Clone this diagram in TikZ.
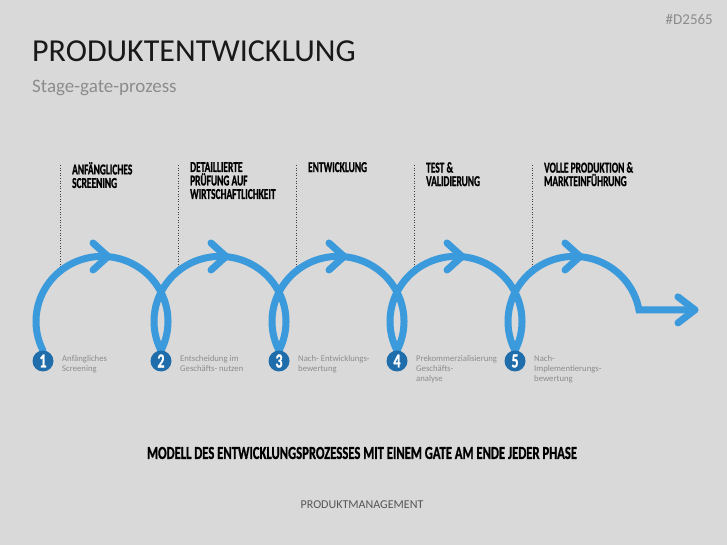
\documentclass[tikz,border=0pt]{standalone}
\usepackage{fontspec}
\usepackage{graphicx}
\setmainfont{Carlito}
\newfontfamily\heavyfont{Carlito}[BoldFeatures={FakeBold=1.2}]
\usetikzlibrary{positioning}

\definecolor{bgray}{HTML}{D9D9D9}
\definecolor{flowblue}{HTML}{3A9ADB}
\definecolor{gateblue}{HTML}{1F6DAA}
\definecolor{softgray}{HTML}{8C8C8C}
\definecolor{darkgray}{HTML}{555555}

\tikzset{
  flow/.style={draw=flowblue, line width=7pt, line cap=round},
  chevron/.style={flow, line join=round},
  gate/.style={circle, fill=gateblue, minimum size=21pt, inner sep=0pt, text=white,
    font=\heavyfont\bfseries\fontsize{20}{20}\selectfont},
  phase/.style={anchor=north west, align=left, inner sep=0pt, xscale=0.63,
    font=\heavyfont\bfseries\fontsize{15}{13.5}\selectfont},
  note/.style={anchor=north west, align=left, inner sep=0pt, text=softgray,
    font=\fontsize{8.7}{10}\selectfont},
  gateline/.style={draw=black!75, dotted, line width=0.6pt},
}

\begin{document}
\begin{tikzpicture}[x=1pt,y=1pt]
  \fill[bgray] (0,0) rectangle (727,545);
  \useasboundingbox (0,0) rectangle (727,545);

  % header
  \node[anchor=base east, inner sep=0pt, text=softgray, font=\fontsize{15}{15}\selectfont] (code) at (713,520) {\#D2565};
  \node[anchor=base west, inner sep=0pt, text=black!90, font=\fontsize{32}{32}\selectfont] (title) at (32,483) {PRODUKTENTWICKLUNG};
  \node[anchor=base west, inner sep=0pt, text=softgray, font=\fontsize{19}{19}\selectfont] (subtitle) at (32,452.5) {Stage-gate-prozess};

  % gate positions
  \foreach \i in {1,...,5}
    \coordinate (c\i) at ({43+118*(\i-1)},184);

  % dotted gate lines and phase titles
  \foreach \i/\txt in {1/{ANFÄNGLICHES\\SCREENING},
                       2/{DETAILLIERTE\\PRÜFUNG AUF\\WIRTSCHAFTLICHKEIT},
                       3/{ENTWICKLUNG},
                       4/{TEST \&\\VALIDIERUNG},
                       5/{VOLLE PRODUKTION \&\\MARKTEINFÜHRUNG}} {
    \draw[gateline] ([shift={(17,196)}]c\i) -- ([shift={(17,90)}]c\i);
    \node[phase] (h\i) at ([shift={(29,199)}]c\i) {\txt};
  }

  % loops between gates
  \foreach \i in {1,...,4} {
    \draw[flow] (c\i) ++(0,10.5) arc[start angle=206.6, end angle=-26.6, x radius=66pt, y radius=65pt];
    \coordinate (t\i) at ([shift={(65,104.5)}]c\i);
    \draw[chevron] (t\i) ++(-15,13.5) -- (t\i) -- ++(-15,-13.5);
  }
  \draw[flow] (c5) ++(0,10.5) arc[start angle=206.6, end angle=10.2, x radius=66pt, y radius=65pt]
    -- ++(56,0) coordinate (out);
  \coordinate (t5) at ([shift={(65,104.5)}]c5);
  \draw[chevron] (t5) ++(-15,13.5) -- (t5) -- ++(-15,-13.5);
  \draw[chevron] (out) ++(-17,13) -- (out) -- ++(-17,-13);

  % gates and notes
  \foreach \i/\txt in {1/{Anfängliches\\Screening},
                       2/{Entscheidung im\\Geschäfts- nutzen},
                       3/{Nach- Entwicklungs-\\bewertung},
                       4/{Prekommerzialisierung\\Geschäfts-\\analyse},
                       5/{Nach-\\Implementierungs-\\bewertung}} {
    \node[gate] (g\i) at (c\i) {\scalebox{0.7}[1]{\i}};
    \node[note] (n\i) at ([shift={(19,5.5)}]g\i.center) {\txt};
  }

  % footer
  \node[inner sep=0pt] (caption) at (362,92)
    {\resizebox{430pt}{12pt}{\heavyfont\bfseries MODELL DES ENTWICKLUNGSPROZESSES MIT EINEM GATE AM ENDE JEDER PHASE}};
  \node[inner sep=0pt, text=darkgray, font=\fontsize{12}{12}\selectfont] (footer) at (362,40) {PRODUKTMANAGEMENT};
\end{tikzpicture}
\end{document}
